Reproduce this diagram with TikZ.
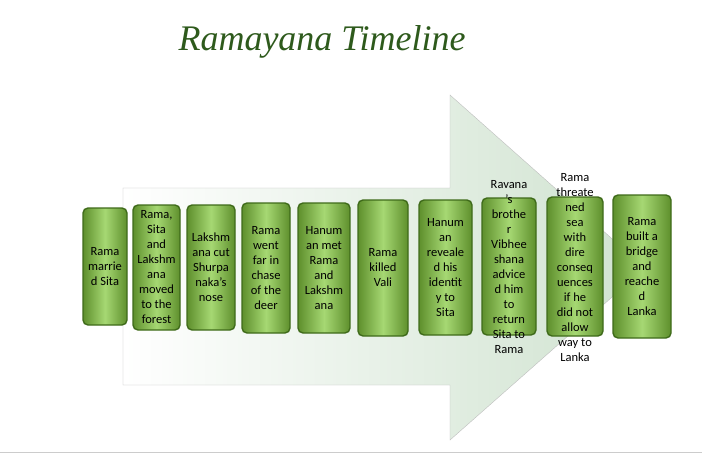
\documentclass[tikz,border=0pt]{standalone}
\usepackage{fontspec}
\setmainfont{Carlito}
\newfontfamily\titlefont{Liberation Serif}
\definecolor{boxdark}{HTML}{5E8F2C}
\definecolor{boxlight}{HTML}{A6D873}
\definecolor{boxedge}{HTML}{3F6B1A}
\definecolor{titlegreen}{HTML}{2E5A1C}
\begin{document}
\begin{tikzpicture}[x=1pt,y=-1pt,
  ev/.style={rounded corners=5pt,draw=boxedge,line width=1.4pt,
    left color=boxdark,right color=boxdark,middle color=boxlight},
  lbl/.style={align=center,inner sep=0pt,font=\fontsize{12.5}{15}\selectfont}]
\useasboundingbox (0,0) rectangle (702,458);
\fill[white] (0,0) rectangle (702,458);
\draw[gray!40] (0,452) -- (702,452);
\node[font=\titlefont\itshape\fontsize{36}{36}\selectfont,text=titlegreen] (title) at (322,42) {Ramayana Timeline};
\path[draw=gray!50,left color=white,right color=green!25!gray!30,shading angle=90]
  (123,188) -- (450,188) -- (450,95) -- (645,268) -- (450,440) -- (450,385) -- (123,385) -- cycle;
\foreach \n/\x/\w/\t/\b in {a/83/44/208/325,b/133/47/205/330,c/187/48/205/330,d/242/48/203/333,e/298/52/203/333,f/358/50/200/336,g/419/53/200/335,h/482/54/198/335,i/547/56/197/336,j/613/58/195/338}{
  \path[ev] (\x,\t) rectangle ++(\w,\b-\t);
  \coordinate (\n) at (\x+\w/2,{(\t+\b)/2});
}
\node[lbl] (ta) at (a) {Rama\\marrie\\d Sita};
\node[lbl] (tb) at (b) {Rama,\\Sita\\and\\Lakshm\\ana\\moved\\to the\\forest};
\node[lbl] (tc) at (c) {Lakshm\\ana cut\\Shurpa\\naka's\\nose};
\node[lbl] (td) at (d) {Rama\\went\\far in\\chase\\of the\\deer};
\node[lbl] (te) at (e) {Hanum\\an met\\Rama\\and\\Lakshm\\ana};
\node[lbl] (tf) at (f) {Rama\\killed\\Vali};
\node[lbl] (tg) at (g) {Hanum\\an\\reveale\\d his\\identit\\y to\\Sita};
\node[lbl] (th) at (509,267) {Ravana\\'s\\brothe\\r\\Vibhee\\shana\\advice\\d him\\to\\return\\Sita to\\Rama};
\node[lbl] (ti) at (575,268) {Rama\\threate\\ned\\sea\\with\\dire\\conseq\\uences\\if he\\did not\\allow\\way to\\Lanka};
\node[lbl] (tj) at (j) {Rama\\built a\\bridge\\and\\reache\\d\\Lanka};
\end{tikzpicture}
\end{document}
